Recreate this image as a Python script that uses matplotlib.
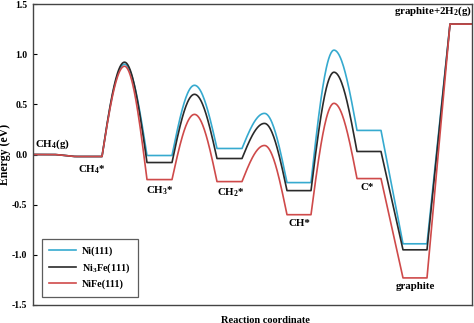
import numpy as np
import matplotlib
matplotlib.use("Agg")
import matplotlib.pyplot as plt

plt.rcParams['font.family'] = ['Liberation Serif', 'DejaVu Serif']
plt.rcParams['font.weight'] = 'bold'
plt.rcParams['mathtext.fontset'] = 'custom'
plt.rcParams['mathtext.rm'] = 'Liberation Serif:bold'
plt.rcParams['mathtext.it'] = 'Liberation Serif:bold'

# states along the path (TS = transition state between two minima)
states = ["CH$_4$(g)", "CH$_4$*", "CH$_3$*", "CH$_2$*", "CH*", "C*", "graphite", "graphite+2H$_2$(g)"]

# energies of the minima (eV)
ni_min = [0.00, -0.02, -0.01, 0.06, -0.28, 0.24, -0.89, 1.30]
ni3fe_min = [0.00, -0.02, -0.08, -0.04, -0.36, 0.03, -0.95, 1.30]
nife_min = [0.00, -0.02, -0.25, -0.27, -0.60, -0.24, -1.23, 1.30]

# transition states between CH4*->CH3*, CH3*->CH2*, CH2*->CH*, CH*->C*
ni_ts = [0.90, 0.69, 0.41, 1.04]
ni3fe_ts = [0.92, 0.60, 0.31, 0.82]
nife_ts = [0.88, 0.40, 0.09, 0.51]

series_names = ["Ni(111)", "Ni$_3$Fe(111)", "NiFe(111)"]
colors = ["#36aacf", "#2a2a2a", "#cf4a4a"]

# layout of the flat segments (x start, width)
x_start = [0, 44, 114, 184, 254, 324, 370, 417]
x_width = [19, 25, 25, 25, 24, 24, 24, 25]
ts_after = [1, 2, 3, 4]  # which minima are followed by a barrier


def build_path(mins, ts):
    xs, ys = [], []
    k = 0
    for i in range(len(mins)):
        x0 = x_start[i]
        x1 = x0 + x_width[i]
        xs += [x0, x1]
        ys += [mins[i], mins[i]]
        if i == len(mins) - 1:
            break
        xn = x_start[i + 1]
        if i in ts_after:
            p = ts[k]
            k += 1
            xp = (x1 + xn) / 2
            t = np.linspace(0, 1, 40)[1:]
            xs += list(x1 + (xp - x1) * t)
            ys += list(mins[i] + (p - mins[i]) * np.sin(t * np.pi / 2))
            xs += list(xp + (xn - xp) * t)
            ys += list(mins[i + 1] + (p - mins[i + 1]) * np.cos(t * np.pi / 2))
        elif i == 0:
            t = np.linspace(0, 1, 30)[1:]
            xs += list(x1 + (xn - x1) * t)
            ys += list(mins[i] + (mins[i + 1] - mins[i]) * (0.5 - 0.5 * np.cos(t * np.pi)))
    return xs, ys


fig = plt.figure(figsize=(4.74, 3.23), dpi=100)
ax = fig.add_axes([33 / 474, 18 / 323, 439 / 474, 301 / 323])

for name, mins, ts, c in zip(series_names,
                             [ni_min, ni3fe_min, nife_min],
                             [ni_ts, ni3fe_ts, nife_ts], colors):
    xs, ys = build_path(mins, ts)
    ax.plot(xs, ys, color=c, lw=1.2, label=name)

ax.set_xlim(0, 439)
ax.set_ylim(-1.5, 1.5)
ax.set_xticks([])
ax.set_yticks([1.5, 1.0, 0.5, 0.0, -0.5, -1.0, -1.5])
ax.set_yticklabels(["1.5", "1.0", "0.5", "0.0", "-0.5", "-1.0", "-1.5"])
ax.tick_params(axis='y', direction='in', length=3, labelsize=7, pad=4)
for s in ax.spines.values():
    s.set_color("#444444")
    s.set_linewidth(1.0)

ax.set_ylabel("Energy (eV)", fontsize=8.5, fontweight='bold', labelpad=1)
ax.set_xlabel("Reaction coordinate", fontsize=7.5, fontweight='bold')
ax.xaxis.set_label_coords(0.53, -0.035)

# state labels
fs = 7.8
ax.text(2, 0.03, states[0], fontsize=fs, ha='left', va='bottom')
ax.text(59, -0.09, states[1], fontsize=fs, ha='center', va='top')
ax.text(127, -0.30, states[2], fontsize=fs, ha='center', va='top')
ax.text(198, -0.32, states[3], fontsize=fs, ha='center', va='top')
ax.text(266, -0.64, states[4], fontsize=fs, ha='center', va='top')
ax.text(334, -0.28, states[5], fontsize=fs, ha='center', va='top')
ax.text(382, -1.27, states[6], fontsize=fs, ha='center', va='top')
ax.text(400, 1.36, states[7], fontsize=fs, ha='center', va='bottom')

leg = ax.legend(loc='lower left', bbox_to_anchor=(0.02, 0.027), borderaxespad=0,
                fontsize=7.3, frameon=True, fancybox=False, edgecolor='#333333',
                handlelength=2.6, handletextpad=0.6, borderpad=0.75, labelspacing=0.5)
leg.get_frame().set_linewidth(0.9)

fig.savefig("out.png", dpi=100)
